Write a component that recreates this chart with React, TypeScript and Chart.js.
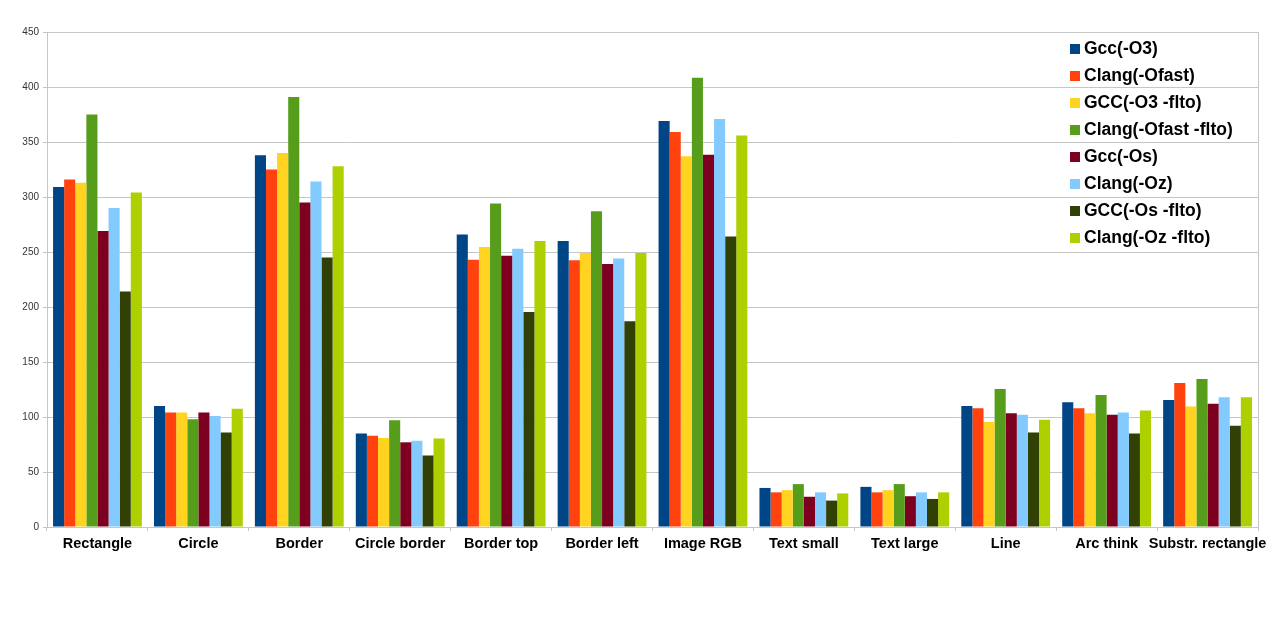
import React, { useEffect, useRef } from "react";
import { Chart, registerables } from "chart.js";

Chart.register(...registerables);

const categories = [
  "Rectangle",
  "Circle",
  "Border",
  "Circle border",
  "Border top",
  "Border left",
  "Image RGB",
  "Text small",
  "Text large",
  "Line",
  "Arc think",
  "Substr. rectangle",
];

const seriesLabels = [
  "Gcc(-O3)",
  "Clang(-Ofast)",
  "GCC(-O3 -flto)",
  "Clang(-Ofast -flto)",
  "Gcc(-Os)",
  "Clang(-Oz)",
  "GCC(-Os -flto)",
  "Clang(-Oz -flto)",
];

const gccO3 = [309, 110, 338, 85, 266, 260, 369, 35.5, 36.5, 110, 113.5, 115.5];
const clangOfast = [316, 104, 325, 83, 243, 242.5, 359, 31.5, 31.5, 108, 108, 131];
const gccO3Flto = [313, 104, 340, 81, 254.5, 249, 337, 33.5, 33.5, 95.5, 103.5, 109.5];
const clangOfastFlto = [375, 98, 391, 97, 294, 287, 408.5, 39, 39, 125.5, 120, 134.5];
const gccOs = [269, 104, 295, 77, 246.5, 239, 338.5, 27.5, 28, 103.5, 102, 112];
const clangOz = [290, 101, 314, 78.5, 253, 244, 371, 31.5, 31.5, 102, 104, 118];
const gccOsFlto = [214, 86, 245, 65, 195.5, 187, 264, 24, 25.5, 86, 85, 92];
const clangOzFlto = [304, 107.5, 328, 80.5, 260, 249, 356, 30.5, 31.5, 97.5, 106, 118];

const seriesValues = [
  gccO3,
  clangOfast,
  gccO3Flto,
  clangOfastFlto,
  gccOs,
  clangOz,
  gccOsFlto,
  clangOzFlto,
];

const seriesColors = [
  "#004586",
  "#ff420e",
  "#ffd320",
  "#579d1c",
  "#7e0021",
  "#83caff",
  "#314004",
  "#aecf00",
];

const yTicks = [0, 50, 100, 150, 200, 250, 300, 350, 400, 450];

const GRID = "#c6c6c6";
const FONT = '"Liberation Sans", Arial, sans-serif';

const overlayPlugin = {
  id: "overlay",
  afterDraw(chart: any) {
    const ctx = chart.ctx;
    const area = chart.chartArea;
    ctx.save();
    ctx.strokeStyle = GRID;
    ctx.lineWidth = 1;
    ctx.beginPath();
    ctx.moveTo(Math.round(area.right) + 0.5, area.top);
    ctx.lineTo(Math.round(area.right) + 0.5, area.bottom);
    ctx.stroke();

    const x0 = area.right - 188;
    const y0 = area.top + 17;
    const step = 27;
    ctx.font = `bold 17.5px ${FONT}`;
    ctx.textBaseline = "middle";
    ctx.textAlign = "left";
    chart.data.datasets.forEach((ds: any, i: number) => {
      const y = y0 + i * step;
      ctx.fillStyle = ds.backgroundColor;
      ctx.fillRect(x0, y - 5, 10, 10);
      ctx.fillStyle = "#000";
      ctx.fillText(ds.label, x0 + 14, y);
    });
    ctx.restore();
  },
};

export default function App() {
  const ref = useRef<HTMLCanvasElement | null>(null);

  useEffect(() => {
    if (!ref.current) return;
    const chart = new Chart(ref.current, {
      type: "bar",
      data: {
        labels: categories,
        datasets: seriesLabels.map((label, i) => ({
          label,
          data: seriesValues[i],
          backgroundColor: seriesColors[i],
          borderWidth: 0,
          categoryPercentage: 0.88,
          barPercentage: 1,
        })),
      },
      options: {
        animation: false,
        responsive: true,
        maintainAspectRatio: false,
        layout: { padding: { top: 32, right: 22, bottom: 0, left: 0 } },
        plugins: {
          legend: { display: false },
          tooltip: { enabled: false },
        },
        scales: {
          x: {
            offset: true,
            grid: {
              offset: true,
              drawOnChartArea: false,
              drawTicks: true,
              tickLength: 4,
              color: GRID,
            },
            border: { display: true, color: GRID },
            ticks: {
              color: "#000",
              font: { family: FONT, size: 14.5, weight: "bold" },
              padding: 4,
              maxRotation: 0,
              autoSkip: false,
            },
            afterFit(scale: any) {
              scale.height = 107;
            },
          },
          y: {
            min: 0,
            max: 450,
            afterBuildTicks(scale: any) {
              scale.ticks = yTicks.map((v) => ({ value: v }));
            },
            grid: {
              color: GRID,
              tickLength: 4,
              drawTicks: true,
            },
            border: { display: true, color: GRID },
            ticks: {
              color: "#333",
              font: { family: FONT, size: 10 },
              padding: 4,
            },
            afterFit(scale: any) {
              scale.width = 47;
            },
          },
        },
      },
      plugins: [overlayPlugin],
    });
    return () => chart.destroy();
  }, []);

  return (
    <div style={{ position: "fixed", left: 0, top: 0, width: 1280, height: 634, background: "#fff" }}>
      <canvas ref={ref} />
    </div>
  );
}
